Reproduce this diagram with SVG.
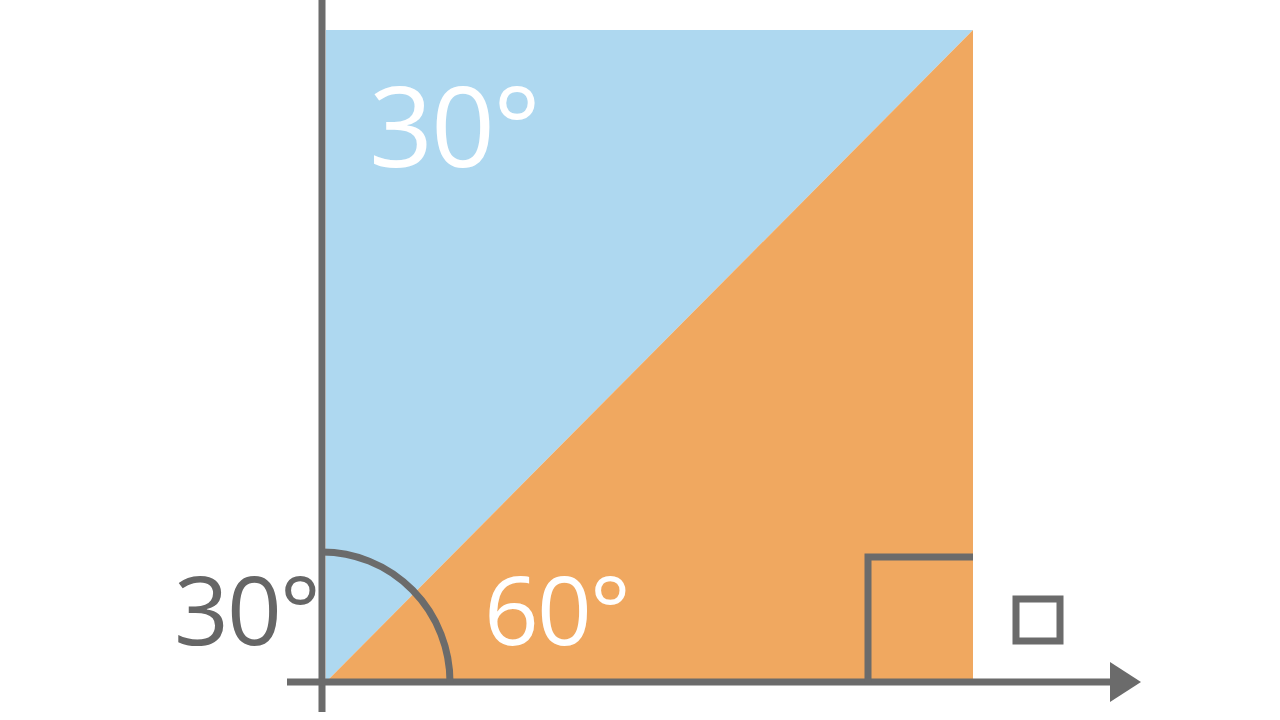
<svg xmlns="http://www.w3.org/2000/svg" width="1280" height="720" viewBox="0 0 1280 720">
<style>
.ln{stroke:#6b6b6b;stroke-width:7;fill:none}
.lbl{font-family:"Open Sans","Noto Sans",sans-serif;font-size:112px;letter-spacing:-2px}
.sm{font-size:96px}
</style>
<rect width="1280" height="720" fill="#ffffff"/>
<g id="square">
<polygon points="326,30 973,30 326,682" fill="#aed8f0"/>
<polygon points="973,30 973,682 326,682" fill="#f0a860"/>
</g>
<g id="connectors">
<line class="ln" x1="322" y1="0" x2="322" y2="712"/>
<line class="ln" x1="287" y1="682" x2="1115" y2="682"/>
<polygon points="1110,662 1141,682 1110,702" fill="#6b6b6b"/>
<path class="ln" d="M322,552 A128,130 0 0 1 450,682"/>
<path class="ln" d="M868,682 V557 H973"/>
<rect class="ln" x="1016" y="599" width="44" height="42" stroke-width="8"/>
</g>
<g id="labels">
<text class="lbl" x="369" y="167" fill="#ffffff">30°</text>
<text class="lbl sm" x="174" y="645" fill="#666666">30°</text>
<text class="lbl sm" x="484" y="645" fill="#ffffff">60°</text>
</g>
</svg>
